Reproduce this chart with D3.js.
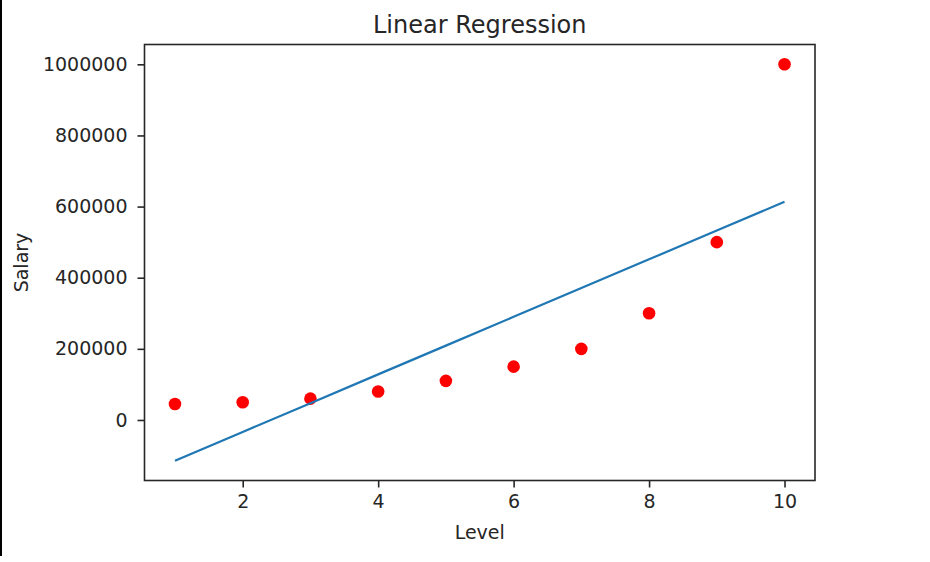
<!DOCTYPE html>
<html><head><meta charset="utf-8">
<script src="https://cdn.jsdelivr.net/npm/d3@7"></script>
<style>body{margin:0;background:#fff}svg{display:block}text{font-family:"DejaVu Sans",sans-serif;fill:#262626}</style>
</head><body><svg id="c" width="930" height="562"></svg>
<script>
const levels = [1,2,3,4,5,6,7,8,9,10];
const salaries = [45000,50000,60000,80000,110000,150000,200000,300000,500000,1000000];
const predicted = [-114455,-33576,47303,128182,209061,289939,370818,451697,532576,613455];
const xTicks = [2,4,6,8,10];
const yTicks = [0,200000,400000,600000,800000,1000000];
const title = "Linear Regression", xLabel = "Level", yLabel = "Salary";

const svg = d3.select("#c");
const L = 144.5, R = 815, T = 44.5, B = 480.5;
const pad = (lo, hi) => { const m = (hi - lo) * 0.05; return [lo - m, hi + m]; };
const xd = pad(d3.min(levels), d3.max(levels));
const yAll = salaries.concat(predicted);
const yd = pad(d3.min(yAll), d3.max(yAll));
const x = d3.scaleLinear().domain(xd).range([L, R]);
const y = d3.scaleLinear().domain(yd).range([B, T]);

// left black edge
svg.append("rect").attr("x",0).attr("y",0).attr("width",2).attr("height",556).attr("fill","#000");

const g = svg.append("g");
g.selectAll("circle").data(levels).join("circle")
  .attr("cx", (d) => x(d)).attr("cy", (d,i) => y(salaries[i])).attr("r", 6.3).attr("fill", "#ff0000");

g.append("path").datum(levels)
  .attr("d", d3.line().x(d => x(d)).y((d,i) => y(predicted[i])))
  .attr("fill","none").attr("stroke","#1f77b4").attr("stroke-width",2.2);

const xa = svg.append("g").attr("transform",`translate(0,${B})`)
  .call(d3.axisBottom(x).tickValues(xTicks).tickSize(7).tickPadding(7).tickFormat(d3.format("d")));
const ya = svg.append("g").attr("transform",`translate(${L},0)`)
  .call(d3.axisLeft(y).tickValues(yTicks).tickSize(7).tickPadding(10).tickFormat(d3.format("d")));
[xa, ya].forEach(a => {
  a.select(".domain").remove();
  a.selectAll(".tick line").attr("stroke","#262626").attr("stroke-width",1.6);
  a.selectAll(".tick text").attr("font-size",19).attr("fill","#262626").style("font-family","DejaVu Sans");
});

svg.append("rect").attr("x",L).attr("y",T).attr("width",R-L).attr("height",B-T)
  .attr("fill","none").attr("stroke","#262626").attr("stroke-width",1.6);

svg.append("text").attr("x",(L+R)/2).attr("y",33).attr("text-anchor","middle").attr("font-size",24).text(title);
svg.append("text").attr("x",(L+R)/2).attr("y",539).attr("text-anchor","middle").attr("font-size",19).text(xLabel);
svg.append("text").attr("transform",`translate(28,${(T+B)/2}) rotate(-90)`).attr("text-anchor","middle").attr("font-size",19).text(yLabel);
</script></body></html>
